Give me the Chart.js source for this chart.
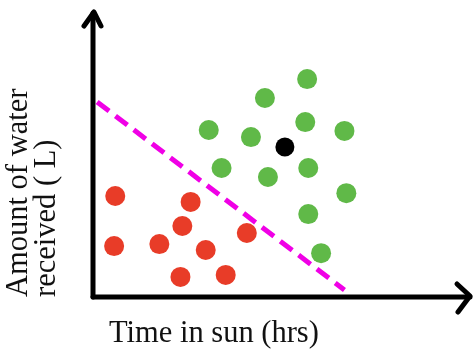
<!DOCTYPE html>
<html>
<head>
<meta charset="utf-8">
<script src="https://cdn.jsdelivr.net/npm/chart.js@4"></script>
<style>
  html, body { margin: 0; padding: 0; background: #fff; }
  #wrap { width: 474px; height: 354px; }
</style>
</head>
<body>
<div id="wrap"><canvas id="sunChart"></canvas></div>
<script>
//Plants that got too little (red) and enough (green) water, plus the new plant (black)
const redX = [0.59, 2.59, 2.37, 4.08, 0.56, 1.76, 2.99, 2.32, 3.52];
const redY = [3.57, 3.36, 2.51, 2.26, 1.80, 1.87, 1.66, 0.71, 0.78];

const greenX = [5.68, 4.56, 5.63, 3.07, 4.19, 6.67, 3.41, 4.64, 5.71, 6.72, 5.71, 6.05];
const greenY = [7.70, 7.03, 6.18, 5.90, 5.65, 5.87, 4.56, 4.24, 4.56, 3.67, 2.93, 1.55];

const newX = [5.09];
const newY = [5.30];

//the dashed dividing line, two end points
const lineX = [0.11, 6.67];
const lineY = [6.89, 0.25];

const xTitle = 'Time in sun (hrs)';
const yTitle = ['Amount of water', 'received ( L)'];

function toPoints(xs, ys){
    return xs.map(function(x, i){ return {x: x, y: ys[i]}; });
}

//draws the two axis lines with arrow heads and the x label
const axesPlugin = {
    id: 'axesPlugin',
    afterDraw(chart){
        const ctx = chart.ctx;
        const a = chart.chartArea;
        ctx.save();
        ctx.strokeStyle = '#000';
        ctx.lineWidth = 5;
        ctx.lineCap = 'round';
        ctx.lineJoin = 'round';
        // y axis
        ctx.beginPath();
        ctx.moveTo(a.left, a.bottom);
        ctx.lineTo(a.left, a.top - 1);
        ctx.stroke();
        ctx.beginPath();
        ctx.moveTo(a.left - 9, a.top + 12);
        ctx.lineTo(a.left + 1, a.top - 2);
        ctx.lineTo(a.left + 8, a.top + 12);
        ctx.stroke();
        // x axis
        ctx.beginPath();
        ctx.moveTo(a.left, a.bottom);
        ctx.lineTo(a.right, a.bottom);
        ctx.stroke();
        ctx.beginPath();
        ctx.moveTo(a.right - 13, a.bottom - 13);
        ctx.lineTo(a.right, a.bottom - 1);
        ctx.lineTo(a.right - 12, a.bottom + 15);
        ctx.stroke();
        // x title
        ctx.fillStyle = '#111';
        ctx.font = '30.5px "Liberation Serif", "DejaVu Serif", serif';
        ctx.textBaseline = 'alphabetic';
        ctx.textAlign = 'left';
        ctx.fillText(xTitle, 109, 342);
        ctx.restore();
    }
};

const ctx = document.getElementById('sunChart');
const myChart = new Chart(ctx, {
    type: 'scatter',
    data: {
        datasets: [{
            type: 'line',
            data: toPoints(lineX, lineY),
            borderColor: '#f000e6',
            borderWidth: 5,
            borderDash: [15, 8],
            pointRadius: 0,
            fill: false,
            order: 3
        }, {
            data: toPoints(redX, redY),
            backgroundColor: '#e83c28',
            borderWidth: 0,
            pointRadius: 10,
            order: 1
        }, {
            data: toPoints(greenX, greenY),
            backgroundColor: '#60b948',
            borderWidth: 0,
            pointRadius: 10,
            order: 1
        }, {
            data: toPoints(newX, newY),
            backgroundColor: '#000',
            borderWidth: 0,
            pointRadius: 9.5,
            order: 0
        }]
    },
    options: {
        responsive: true,
        maintainAspectRatio: false,
        animation: false,
        layout: { autoPadding: false, padding: { top: 14, right: 4, bottom: 57, left: 0 } },
        plugins: { legend: { display: false }, tooltip: { enabled: false } },
        scales: {
            x: {
                type: 'linear',
                min: 0,
                max: 10,
                grid: { display: false, drawTicks: false },
                border: { display: false },
                ticks: { display: false }
            },
            y: {
                type: 'linear',
                min: 0,
                max: 10,
                grid: { display: false, drawTicks: false },
                border: { display: false },
                ticks: { display: false },
                title: {
                    display: true,
                    text: yTitle,
                    align: 'start',
                    color: '#111',
                    font: { family: '"Liberation Serif", "DejaVu Serif", serif', size: 30.5, lineHeight: 28 / 30.5 },
                    padding: { top: 5, bottom: 32 }
                }
            }
        }
    },
    plugins: [axesPlugin]
});
</script>
</body>
</html>
